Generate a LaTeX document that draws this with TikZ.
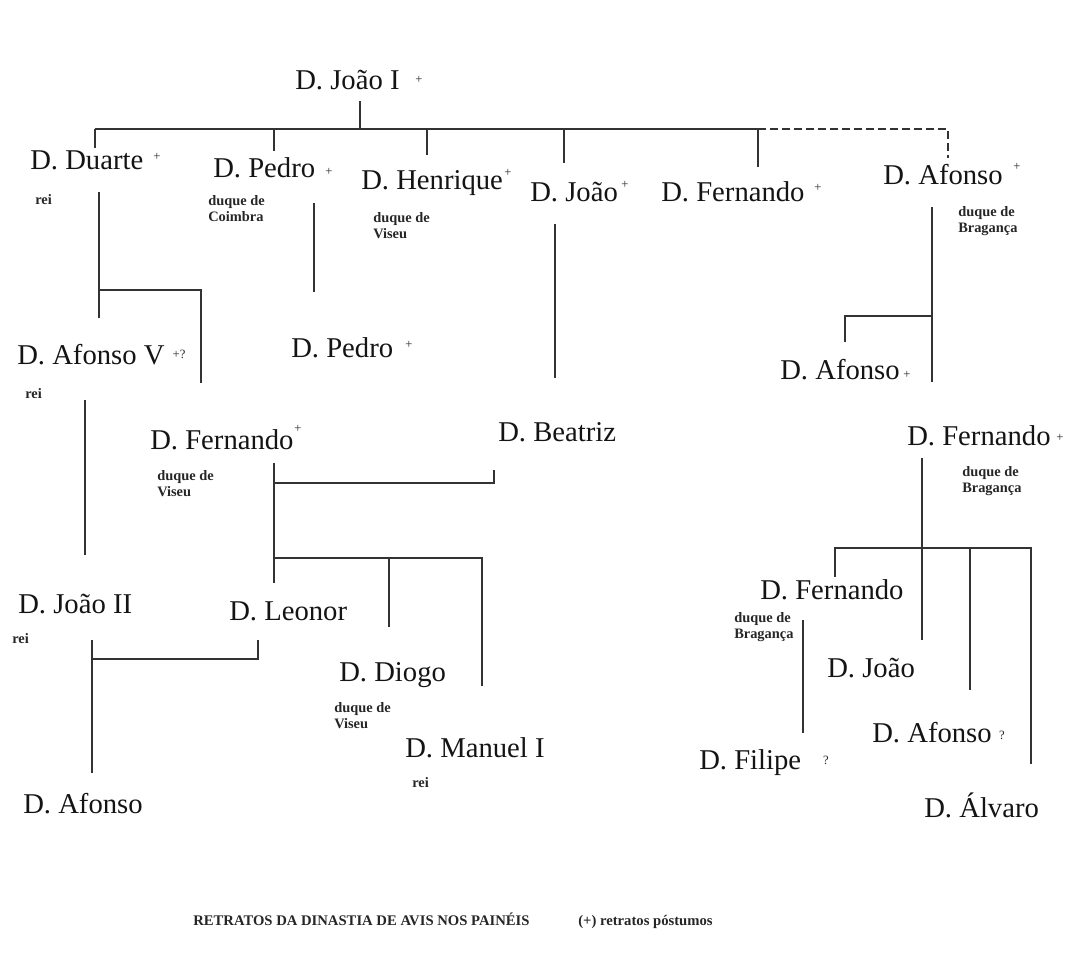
\documentclass[tikz,border=0pt]{standalone}
\usepackage{fontspec}
\setmainfont{Liberation Serif}
\newcommand\namefnt{\fontsize{21.5}{24}\selectfont}
\newcommand\notefnt{\bfseries\fontsize{10.8}{12.2}\selectfont}
\newcommand\plusfnt{\fontsize{9.5}{10}\selectfont}
\newcommand\capfnt{\bfseries\fontsize{11}{12}\selectfont}
\begin{document}
\begin{tikzpicture}[x=0.75pt,y=-0.75pt,
  person/.style={font=\namefnt, inner sep=0pt, anchor=base west, text=black!92},
  note/.style={font=\notefnt, inner sep=0pt, anchor=north west, align=left, text=black!85},
  plusmark/.style={font=\plusfnt, inner sep=0pt, anchor=center, text=black!85},
  capt/.style={font=\capfnt, inner sep=0pt, anchor=base west, text=black!85},
  link/.style={draw=black!80, line width=0.9pt},
  dlink/.style={draw=black!80, line width=0.9pt, dash pattern=on 6pt off 3pt}]
\useasboundingbox[fill=white] (0,0) rectangle (1067,960);

% ---- generation 0
\node[person] (joaoI) at (295,89) {D. João I};
\node[plusmark] (joaoIp) at (419,80) {+};

% ---- generation 1
\node[person] (duarte) at (30,169) {D. Duarte};
\node[plusmark] (duartep) at (157,157) {+};
\node[note] (duarten) at (35,194) {rei};
\node[person] (pedro) at (213,177) {D. Pedro};
\node[plusmark] (pedrop) at (329,172) {+};
\node[note] (pedron) at (208,195) {duque de\\Coimbra};
\node[person] (henrique) at (361,189) {D. Henrique};
\node[plusmark] (henriquep) at (508,173) {+};
\node[note] (henriquen) at (373,212) {duque de\\Viseu};
\node[person] (joao) at (530,201) {D. João};
\node[plusmark] (joaop) at (625,185) {+};
\node[person] (fernando) at (661,201) {D. Fernando};
\node[plusmark] (fernandop) at (818,188) {+};
\node[person] (afonso) at (883,184) {D. Afonso};
\node[plusmark] (afonsop) at (1017,167) {+};
\node[note] (afonson) at (958,206) {duque de\\Bragança};

% ---- generation 2
\node[person] (afonsoV) at (17,364) {D. Afonso V};
\node[plusmark] (afonsoVp) at (179,354) {+?};
\node[note] (afonsoVn) at (25,388) {rei};
\node[person] (pedroII) at (291,357) {D. Pedro};
\node[plusmark] (pedroIIp) at (409,345) {+};
\node[person] (beatriz) at (498,441) {D. Beatriz};
\node[person] (afonsoII) at (780,379) {D. Afonso};
\node[plusmark] (afonsoIIp) at (907,375) {+};
\node[person] (fernandoV) at (150,449) {D. Fernando};
\node[plusmark] (fernandoVp) at (298,429) {+};
\node[note] (fernandoVn) at (157,470) {duque de\\Viseu};
\node[person] (fernandoB) at (907,445) {D. Fernando};
\node[plusmark] (fernandoBp) at (1060,438) {+};
\node[note] (fernandoBn) at (962,466) {duque de\\Bragança};

% ---- generation 3
\node[person] (joaoII) at (18,613) {D. João II};
\node[note] (joaoIIn) at (12,633) {rei};
\node[person] (leonor) at (229,620) {D. Leonor};
\node[person] (diogo) at (339,681) {D. Diogo};
\node[note] (diogon) at (334,702) {duque de\\Viseu};
\node[person] (manuel) at (405,757) {D. Manuel I};
\node[note] (manueln) at (412,777) {rei};
\node[person] (fernandoC) at (760,599) {D. Fernando};
\node[note] (fernandoCn) at (734,612) {duque de\\Bragança};
\node[person] (joaoC) at (827,677) {D. João};
\node[person] (afonsoC) at (872,742) {D. Afonso};
\node[plusmark] (afonsoCq) at (1002,735) {?};
\node[person] (alvaro) at (924,817) {D. Álvaro};

% ---- generation 4
\node[person] (afonsoIV) at (23,813) {D. Afonso};
\node[person] (filipe) at (699,769) {D. Filipe};
\node[plusmark] (filipeq) at (826,760) {?};

% ---- caption
\node[capt] (cap1) at (193,925) {RETRATOS DA DINASTIA DE AVIS NOS PAINÉIS};
\node[capt] (cap2) at (578,925) {(+) retratos póstumos};

% ---- junction coordinates
\coordinate (jI-top) at (360,101);
\coordinate (jI-bar) at (360,129);
\coordinate (bar-l) at (95,129);
\coordinate (bar-m) at (758,129);
\coordinate (bar-r) at (948,129);
\coordinate (afonso-top) at (948,158);
\coordinate (duarte-top) at (95,148);
\coordinate (pedro-bar) at (274,129);
\coordinate (pedro-top) at (274,151);
\coordinate (henrique-bar) at (427,129);
\coordinate (henrique-top) at (427,155);
\coordinate (joao-bar) at (564,129);
\coordinate (joao-top) at (564,163);
\coordinate (fernando-top) at (758,167);

\coordinate (duarte-bot) at (99,192);
\coordinate (duarte-j) at (99,290);
\coordinate (afonsoV-top) at (99,318);
\coordinate (fernandoV-j) at (201,290);
\coordinate (fernandoV-top) at (201,383);

\coordinate (pedro-bot) at (314,203);
\coordinate (pedroII-top) at (314,292);

\coordinate (joao-bot) at (555,224);
\coordinate (beatriz-top) at (555,378);

\coordinate (afonso-bot) at (932,207);
\coordinate (afonso-j) at (932,316);
\coordinate (fernandoB-top) at (932,382);
\coordinate (afonsoII-j) at (845,316);
\coordinate (afonsoII-top) at (845,342);

\coordinate (afonsoV-bot) at (85,400);
\coordinate (joaoII-top) at (85,555);

\coordinate (fernandoV-bot) at (274,463);
\coordinate (fV-beat) at (274,483);
\coordinate (beat-j) at (494,483);
\coordinate (beatriz-bot) at (494,470);
\coordinate (kids-l) at (274,558);
\coordinate (leonor-top) at (274,583);
\coordinate (diogo-j) at (389,558);
\coordinate (diogo-top) at (389,627);
\coordinate (manuel-j) at (482,558);
\coordinate (manuel-top) at (482,686);

\coordinate (leonor-bot) at (258,640);
\coordinate (leonor-j) at (258,659);
\coordinate (joaoII-j) at (92,659);
\coordinate (joaoII-bot) at (92,640);
\coordinate (afonsoIV-top) at (92,773);

\coordinate (fernandoB-bot) at (922,458);
\coordinate (fB-j) at (922,548);
\coordinate (joaoC-top) at (922,640);
\coordinate (fC-j) at (835,548);
\coordinate (fernandoC-top) at (835,577);
\coordinate (aC-j) at (970,548);
\coordinate (afonsoC-top) at (970,690);
\coordinate (alv-j) at (1031,548);
\coordinate (alvaro-top) at (1031,764);

\coordinate (fernandoC-bot) at (803,620);
\coordinate (filipe-top) at (803,733);

% ---- connectors
\draw[link] (jI-top) -- (jI-bar);
\draw[link] (bar-l) -- (bar-m);
\draw[dlink] (bar-m) -- (bar-r) -- (afonso-top);
\draw[link] (bar-l) -- (duarte-top);
\draw[link] (pedro-bar) -- (pedro-top);
\draw[link] (henrique-bar) -- (henrique-top);
\draw[link] (joao-bar) -- (joao-top);
\draw[link] (bar-m) -- (fernando-top);

\draw[link] (duarte-bot) -- (afonsoV-top);
\draw[link] (duarte-j) -- (fernandoV-j) -- (fernandoV-top);
\draw[link] (pedro-bot) -- (pedroII-top);
\draw[link] (joao-bot) -- (beatriz-top);
\draw[link] (afonso-bot) -- (fernandoB-top);
\draw[link] (afonso-j) -- (afonsoII-j) -- (afonsoII-top);

\draw[link] (afonsoV-bot) -- (joaoII-top);
\draw[link] (fernandoV-bot) -- (leonor-top);
\draw[link] (fV-beat) -- (beat-j) -- (beatriz-bot);
\draw[link] (kids-l) -- (manuel-j) -- (manuel-top);
\draw[link] (diogo-j) -- (diogo-top);

\draw[link] (leonor-bot) -- (leonor-j) -- (joaoII-j);
\draw[link] (joaoII-bot) -- (afonsoIV-top);

\draw[link] (fernandoB-bot) -- (joaoC-top);
\draw[link] (fernandoC-top) -- (fC-j) -- (alv-j) -- (alvaro-top);
\draw[link] (aC-j) -- (afonsoC-top);
\draw[link] (fernandoC-bot) -- (filipe-top);
\end{tikzpicture}
\end{document}
